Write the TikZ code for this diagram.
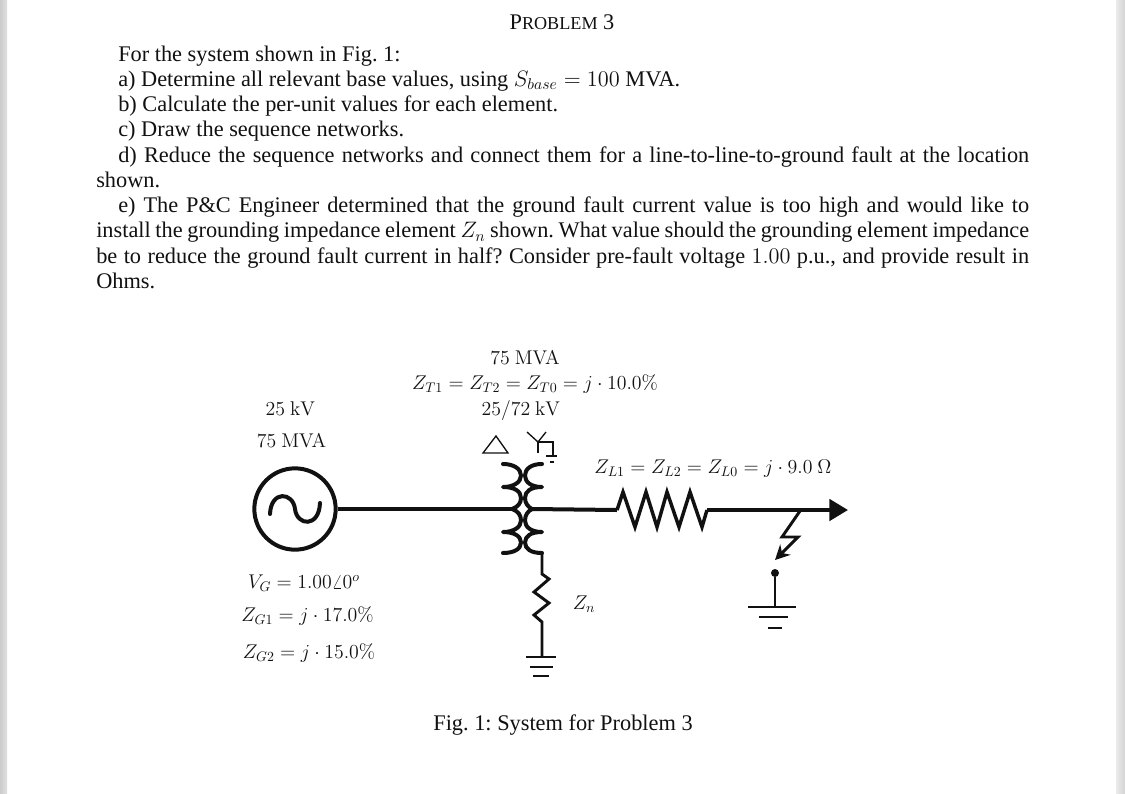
\documentclass[tikz,border=0pt]{standalone}
\usepackage{fix-cm}
\usepackage[no-math]{fontspec}
\setmainfont{Liberation Serif}
\usetikzlibrary{arrows.meta}
\newcommand{\bodyfont}{\frenchspacing\fontsize{16.75}{18.92}\selectfont}
\newcommand{\figfont}{\fontsize{14.9}{17}\selectfont}
\definecolor{inkc}{HTML}{111111}
\tikzset{
  x=0.75pt,y=-0.75pt,
  bustrace/.style={line width=3pt,draw=inkc},
  coil/.style={line width=3pt,draw=inkc,line cap=round,line join=round},
  wire/.style={line width=2.2pt,draw=inkc,line join=miter},
  thin wire/.style={line width=1pt,draw=inkc},
  label/.style={inner sep=0pt,font=\figfont,text=inkc},
  bodytext/.style={inner sep=0pt,font=\bodyfont,text=inkc,text width=699.75pt,align=justify},
  plain text/.style={inner sep=0pt,font=\bodyfont,text=inkc},
}
\begin{document}
\begin{tikzpicture}
\useasboundingbox (0,0) rectangle (1125,793);
\fill[white] (0,0) rectangle (1125,793);
\shade[left color=black!20,right color=black!12] (0,0) rectangle (7,793);
\shade[left color=black!8,right color=black!17] (1116,0) rectangle (1125,793);

% text
\node[plain text] (title) at (562,22.5) {P{\fontsize{13.6}{15}\selectfont ROBLEM} 3};
\node[bodytext,anchor=north west] (problem) at (96,45.5) {%
\hspace*{16.5pt}For the system shown in Fig.~1:\par
\hspace*{16.5pt}a) Determine all relevant base values, using $S_{base}=100$ MVA.\par
\hspace*{16.5pt}b) Calculate the per-unit values for each element.\par
\hspace*{16.5pt}c) Draw the sequence networks.\par
\hspace*{16.5pt}d) Reduce the sequence networks and connect them for a line-to-line-to-ground fault at the location shown.\par
\hspace*{16.5pt}e) The P\&C Engineer determined that the ground fault current value is too high and would like to\linebreak[4] install the grounding impedance element $Z_n$ shown. What value should the grounding element impedance\linebreak[4] be to reduce the ground fault current in half? Consider pre-fault voltage $1.00$ p.u., and provide result in\linebreak[4] Ohms.\par};
\node[plain text] (caption) at (563,725) {Fig. 1: System for Problem 3};

% labels
\node[label] (tmva) at (525,357.5) {$\mathrm{75\ MVA}$};
\node[label] (tz) at (535,383.5) {$Z_{T1}=Z_{T2}=Z_{T0}=j\cdot 10.0\%$};
\node[label] (tkv) at (521,410.5) {$\mathrm{25/72\ kV}$};
\node[label] (gkv) at (290.5,408.5) {$\mathrm{25\ kV}$};
\node[label] (gmva) at (291.5,440.5) {$\mathrm{75\ MVA}$};
\node[label] (vg) at (304,583.5) {$V_G=1.00\angle 0^o$};
\node[label] (zg1) at (307.5,615.5) {$Z_{G1}=j\cdot 17.0\%$};
\node[label] (zg2) at (309,652.5) {$Z_{G2}=j\cdot 15.0\%$};
\node[label] (zl) at (713,468.5) {$Z_{L1}=Z_{L2}=Z_{L0}=j\cdot 9.0\ \Omega$};
\node[label] (zn) at (584,604.5) {$Z_n$};

% generator
\node[circle,draw=inkc,line width=3pt,minimum size=61pt,inner sep=0pt] (gen) at (295,509) {};
\draw[line width=3pt,draw=inkc,line cap=round] (270,514) .. controls (271,490) and (293,492) .. (295,509) .. controls (297,526) and (319,528) .. (320,503);

% transformer
\coordinate (lj) at (512,509);
\coordinate (rj) at (532,509);
\draw[coil] (503,464) .. controls (514,464) and (521,469) .. (521,475.5) .. controls (521,482) and (514,487) .. (503,487)
            .. controls (514,487) and (521,491) .. (521,498) .. controls (521,503) and (518,507) .. (lj)
            .. controls (518,511) and (521,515) .. (521,520.5) .. controls (521,527) and (514,532) .. (503,532)
            .. controls (514,532) and (521,536) .. (521,542.5) .. controls (521,549) and (514,553) .. (503,553);
\draw[coil] (542,464) .. controls (531,464) and (525,469) .. (525,475.5) .. controls (525,482) and (531,487) .. (542,487)
            .. controls (531,487) and (525,491) .. (525,498) .. controls (525,503) and (528,507) .. (rj)
            .. controls (528,511) and (525,515) .. (525,520.5) .. controls (525,527) and (531,532) .. (542,532)
            .. controls (531,532) and (525,536) .. (525,542.5) .. controls (525,549) and (531,553) .. (542,553);
\draw[bustrace] (gen.east) -- (lj);

% line
\coordinate (ra) at (617,510);
\coordinate (rb) at (707,510);
\coordinate (tip) at (848,510);
\coordinate (fa) at (800,511);
\draw[bustrace] (rj) -- (ra);
\draw[wire,line width=2.6pt] (ra) -- (623,492) -- (635,527) -- (646,492) -- (657,527) -- (667,492) -- (679,527) -- (690,492) -- (702,527) -- (rb);
\draw[bustrace,-{Triangle[length=14pt,width=16pt]}] (rb) -- (tip);

% fault
\coordinate (fb) at (775,560);
\node[circle,fill=inkc,inner sep=0pt,minimum size=6pt] (dot) at (775,573) {};
\coordinate (gf) at (775,607);
\draw[wire,-{Stealth[length=11pt,width=11pt]}] (fa) -- (782,537) -- (798,537) -- (fb);
\draw[wire] (dot) -- (gf);
\draw[wire] (748,607) -- (796,607);
\draw[wire] (759,617) -- (788,617);
\draw[wire] (768,628) -- (782,628);

% neutral
\coordinate (n0) at (542,553);
\coordinate (n1) at (542,574);
\coordinate (n2) at (542,622);
\coordinate (g0) at (542,657);
\draw[wire] (n0) -- (n1) -- (549,579) -- (534,592) -- (549,603) -- (534,615) -- (n2) -- (g0);
\draw[wire] (526,657) -- (556,657);
\draw[wire] (530,667) -- (553,667);
\draw[wire] (533,676) -- (549,676);

% winding symbols
\draw[thin wire] (496,436) -- (483,453) -- (508,453) -- cycle;
\coordinate (wc) at (538,442);
\draw[thin wire] (527,432) -- (wc) -- (546,432);
\draw[thin wire] (538,453) -- (wc) -- (553,442) -- (553,456);
\draw[thin wire] (546,456) -- (557,456);
\draw[thin wire] (550,462) -- (554,462);
\end{tikzpicture}
\end{document}
